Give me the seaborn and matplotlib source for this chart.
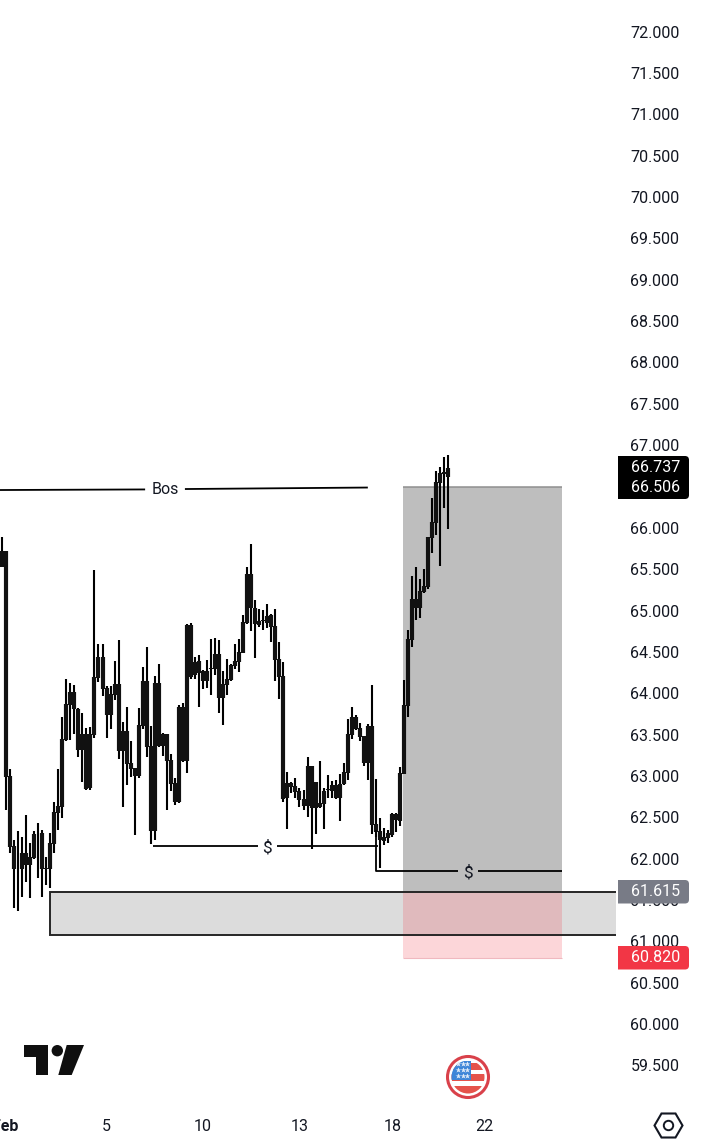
import numpy as np
import pandas as pd
import matplotlib
matplotlib.use("Agg")
import matplotlib.pyplot as plt
from matplotlib.patches import Rectangle, Circle, PathPatch, Polygon
from matplotlib.path import Path
from matplotlib.lines import Line2D
from matplotlib.transforms import IdentityTransform, ScaledTranslation
import seaborn as sns

body_top = [65730,65730,63006,62160,61885,62071,62071,62031,62305,62321,62321,61894,62192,62571,62643,63453,63876,64021,64021,63820,
63514,63514,63514,64203,64445,64445,64070,63997,64118,64118,63550,63550,63163,63103,63622,64154,64154,63369,64130,64130,
63514,63514,63199,62917,63844,63844,64831,64831,64388,64396,64271,64271,64308,64481,64481,64118,64179,64348,64396,64505,
64868,65448,65448,65037,64880,64892,64940,64952,64819,64416,64215,62917,62917,62885,62820,62724,63127,63127,62937,62675,
62825,62845,62897,62897,62909,63050,63514,63715,63715,63586,63490,63610,63610,62421,62340,62268,62312,62546,62546,63037,
63864,64662,65141,65141,65242,65302,65891,66072,66556,66672,66681,66729]
body_bottom = [65529,62998,62152,61877,61877,61885,61930,61930,62010,62313,61885,61885,61885,62184,62563,62635,63441,63868,63812,63320,
63320,62853,62861,63502,64195,64062,63747,63747,63989,63312,63312,63155,63094,63006,63006,63614,63361,62345,62345,63369,
63369,63191,62909,62692,62692,63191,63187,64207,64223,64247,64158,64158,64300,64295,63945,63945,64106,64167,64340,64388,
64497,64856,65037,64844,64831,64880,64856,64811,64408,64203,62728,62736,62877,62812,62716,62643,62643,62615,62615,62627,
62667,62833,62829,62736,62736,62905,63046,63506,63574,63481,63163,63163,62413,62332,62231,62223,62252,62292,62473,62461,
63029,63856,64650,65032,65032,65234,65294,65879,66064,66552,66660,66624]
wick_high = [65891,65730,63091,62232,62341,62268,62534,62200,62341,62434,62353,62031,62321,62692,63091,63719,64179,64130,64106,63824,
63772,63586,63602,65496,64602,64602,64094,64094,64396,64650,63659,63840,63429,63103,63828,64324,64566,63610,64215,64360,
63526,63514,63272,62982,63864,63888,64844,64856,64445,64469,64287,64408,64662,64674,64650,64275,64420,64356,64598,64662,
64952,65533,65811,65134,65025,65013,65085,64964,65025,64626,64384,63050,62929,62982,62861,62837,63236,63127,62937,63187,
62861,63018,62945,62957,63030,63163,63695,63840,63743,63647,63490,63634,64106,62969,62493,62372,62352,62562,62562,63118,
64166,64770,65423,65532,65387,65508,65899,66366,66693,66741,66862,66886]
wick_low = [65529,62595,62079,61414,61378,61547,61728,61527,61998,61777,61547,61688,61648,62079,62353,62502,63433,63441,63514,63240,
62937,62837,62837,63469,64142,63973,63465,63574,63925,63211,62635,62897,62998,62293,62986,63574,63236,62184,62232,63361,
63248,62595,62825,62655,62684,63179,63042,64179,64179,63844,64058,64066,63985,64223,63772,63622,63985,64154,64300,64263,
64493,64844,64759,64432,64807,64771,64795,64626,64154,63937,62688,62365,62796,62740,62631,62595,62510,62123,62305,62615,
62365,62740,62740,62728,62462,62897,62957,63453,63562,63429,63127,62957,62305,62272,61897,62171,62191,62272,62332,62405,
63025,63723,64569,64891,64919,65222,65266,65701,65919,65544,66245,65991]

y_ticks = list(range(59500, 72001, 500))
x_tick_pos = [0.8, 25.9, 50.0, 74.1, 97.2, 120.0]
x_tick_labels = ["Feb", "5", "10", "13", "18", "22"]

risk_top, risk_bottom, risk_mid = 66495, 60810, 61615
risk_left, risk_right = 99.75, 139.3
zone_top, zone_bottom, zone_left = 61605, 61083, 11.94
zone_width = 140.8
bos_price_left, bos_price_right = 66463, 66493
liq1_price, liq2_price = 62160, 61857
last_high, last_low, entry_price, stop_price = 66737, 66506, 61615, 60820

W, H = 720, 1139
sns.set_theme(style="white")
plt.rcParams["font.family"] = ["Roboto", "DejaVu Sans"]
fig = plt.figure(figsize=(W / 100, H / 100), dpi=100, facecolor="white")
ax = fig.add_axes([0, 1 - 1110 / H, 617 / W, 1110 / H])
ax.set_facecolor("white")
for s in ax.spines.values():
    s.set_visible(False)

PXP = 12.089
ax.set_ylim(72000 - (1110 - 32) * PXP, 72000 + 32 * PXP)
ax.set_xlim(-0.5, (617 - 2) / 4.02)

TXT = "#131722"
ax.set_yticks(y_ticks)
ax.set_yticklabels([f"{v/1000:.3f}" for v in y_ticks], fontsize=11.5, color=TXT)
ax.yaxis.tick_right()
ax.tick_params(axis="y", length=0, pad=9.6)
ax.set_xticks(x_tick_pos)
ax.set_xticklabels(x_tick_labels, fontsize=11.5, color=TXT)
ax.tick_params(axis="x", length=0, pad=6.5)
ax.get_xticklabels()[0].set_fontweight("bold")
ax.grid(False)
shift = ScaledTranslation(0, 0.5 / 100, fig.dpi_scale_trans)
for t in ax.yaxis.get_major_ticks():
    t.label2.set_transform(t.label2.get_transform() + shift)

# position boxes
ax.add_patch(Rectangle((risk_left, risk_mid), risk_right - risk_left, risk_top - risk_mid,
                       fc="#bebebe", ec="none", zorder=1))
ax.add_patch(Rectangle((zone_left, zone_bottom), zone_width, zone_top - zone_bottom,
                       fc="#dcdcdc", ec="none", zorder=1))
ax.add_patch(Rectangle((risk_left, risk_bottom), risk_right - risk_left, risk_mid - risk_bottom,
                       fc="#f23645", alpha=0.2, ec="none", zorder=1.5))
ax.plot([risk_left, risk_right], [risk_top, risk_top], color="#8f8f8f", lw=1.1, zorder=2, solid_capstyle="butt")
ax.plot([risk_left, risk_right], [risk_bottom, risk_bottom], color="#f0b8bf", lw=0.8, zorder=2, solid_capstyle="butt")

# candles
idx = np.arange(len(body_top))
wicks = pd.DataFrame({"i": np.r_[idx, idx], "price": wick_high + wick_low, "candle": np.r_[idx, idx]})
bodies = pd.DataFrame({"i": np.r_[idx, idx], "price": body_top + body_bottom, "candle": np.r_[idx, idx]})
sns.lineplot(data=wicks, x="i", y="price", units="candle", estimator=None, sort=False, errorbar=None,
             color="#000000", lw=1.5, solid_capstyle="butt", ax=ax, zorder=3, legend=False)
sns.lineplot(data=bodies, x="i", y="price", units="candle", estimator=None, sort=False, errorbar=None,
             color="#111111", lw=3.0, solid_capstyle="butt", ax=ax, zorder=3, legend=False)
ax.set_xlabel("")
ax.set_ylabel("")

# drawings
LW = 1.3
kw = dict(color="#000000", lw=LW, zorder=4, solid_capstyle="butt")
ax.plot([-0.5, 35.6], [bos_price_left, 66470], **kw)
ax.plot([45.5, 91], [66475, bos_price_right], **kw)
ax.text(40.5, 66472, "Bos", ha="center", va="center", fontsize=11.5, color=TXT, zorder=5)
ax.plot([37.56, 63.7], [liq1_price, liq1_price], **kw)
ax.plot([68.4, 93.5], [liq1_price, liq1_price], **kw)
ax.text(65.9, liq1_price - 25, "$", ha="center", va="center", fontsize=12.5, color=TXT, zorder=5)
ax.plot([93, 93, 113.4], [62350, liq2_price, liq2_price], **kw)
ax.plot([118.4, risk_right], [liq2_price, liq2_price], **kw)
ax.text(115.9, liq2_price - 15, "$", ha="center", va="center", fontsize=12.5, color=TXT, zorder=5)
zkw = dict(color="#262626", lw=1.4, zorder=4, solid_joinstyle="miter", solid_capstyle="butt")
ax.plot([zone_left + zone_width, zone_left, zone_left, zone_left + zone_width],
        [zone_top, zone_top, zone_bottom, zone_bottom], **zkw)

# everything below is placed in pixels, measured from the top left corner
ID = IdentityTransform()
def P(x, y):
    return (x, H - y)

def add(a):
    fig.add_artist(a)
    return a

def badge(y0, y1, color):
    x0, x1, r = 618, 689, 4
    verts = [P(x0, y0), P(x1 - r, y0), P(x1, y0), P(x1, y0 + r), P(x1, y1 - r), P(x1, y1), P(x1 - r, y1), P(x0, y1), P(x0, y0)]
    codes = [Path.MOVETO, Path.LINETO, Path.CURVE3, Path.CURVE3, Path.LINETO, Path.CURVE3, Path.CURVE3, Path.LINETO, Path.CLOSEPOLY]
    add(PathPatch(Path(verts, codes), fc=color, ec="none", transform=ID, zorder=2))

def label(x, y, s, **k):
    fig.text(x / W, 1 - y / H, s, ha="center", va="center", zorder=3, **k)

badge(456, 499, "#000000")
label(655.5, 467.5, f"{last_high/1000:.3f}", color="white", fontsize=11.5)
label(655.5, 487, f"{last_low/1000:.3f}", color="white", fontsize=11.5)
badge(880, 903.5, "#787b86")
label(655.5, 891.5, f"{entry_price/1000:.3f}", color="white", fontsize=11.5)
badge(946, 969.5, "#f23645")
label(655.5, 957.5, f"{stop_price/1000:.3f}", color="white", fontsize=11.5)

# TradingView logo
LOGO = "#0f0f0f"
add(Polygon([P(24, 1045), P(48, 1045), P(48, 1075), P(36, 1075), P(36, 1057), P(24, 1057)], fc=LOGO, ec="none", transform=ID))
add(Circle(P(57.3, 1050.7), 5.7, fc=LOGO, ec="none", transform=ID))
add(Polygon([P(66.7, 1045), P(84, 1045), P(71.7, 1075), P(58.3, 1075)], fc=LOGO, ec="none", transform=ID))

# flag icon
cx, cy = 468, 1077
add(Circle(P(cx, cy), 20.5, fc="white", ec="#d9414a", lw=2.2, transform=ID))
clip = Circle(P(cx, cy), 16.5, transform=ID)
def clipped(a):
    a.set_clip_path(clip)
    fig.add_artist(a)
for y0, y1, c in [(1060, 1093.5, "white"), (1063.3, 1070, "#e5534b"), (1074, 1080.7, "#e5534b"), (1086, 1094, "#e5534b")]:
    clipped(Rectangle(P(cx - 17, y1), 34, y1 - y0, fc=c, ec="none", transform=ID))
clipped(Rectangle(P(450, 1079.5), 20.7, 19, fc="#3d85d8", ec="none", transform=ID))
for sy in (1064, 1070, 1075.7):
    for sx in (458.3, 462.7, 467.3):
        fx, fy = P(sx, sy)
        add(Line2D([fx], [fy], marker="*", ms=4, mfc="#dfeaf7", mec="none", ls="none", transform=ID))

# settings icon
add(Polygon([P(654.5, 1125.5), P(661.5, 1113.5), P(675.5, 1113.5), P(682.5, 1125.5), P(675.5, 1137.5), P(661.5, 1137.5)],
            fc="none", ec="#131722", lw=1.5, transform=ID))
add(Circle(P(668.5, 1125.5), 4.7, fc="none", ec="#131722", lw=1.4, transform=ID))

fig.savefig("out.png", dpi=100, facecolor="white")
